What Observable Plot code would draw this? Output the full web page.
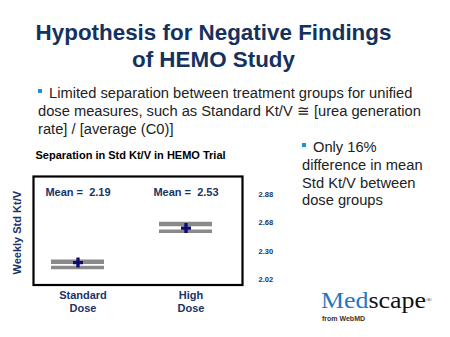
<!DOCTYPE html>
<html>
<head>
<meta charset="utf-8">
<script src="https://cdn.jsdelivr.net/npm/d3@7"></script>
<script src="https://cdn.jsdelivr.net/npm/@observablehq/plot@0.6"></script>
<style>
  html, body { margin: 0; padding: 0; background: #fff; }
  #page { position: relative; width: 450px; height: 337px; overflow: hidden; background: #fff; font-family: "Liberation Sans", Arial, sans-serif; }
  .abs { position: absolute; white-space: nowrap; }
  .title { left: 0; width: 427px; text-align: center; font-size: 22.4px; font-weight: bold; color: #15315e; line-height: 27px; top: 19px; }
  .body { font-size: 14.7px; color: #222; line-height: 17.8px; }
  .bullet { display: inline-block; width: 4px; height: 4px; background: #1e8fd6; vertical-align: middle; margin-right: 7px; position: relative; top: -3px; }
  #chart { position: absolute; left: 0; top: 140px; }
  #chart svg [aria-label="y-axis tick label"] text, #chart svg [aria-label="y-axis"] text { font-size: 7.5px; font-weight: bold; fill: #1a3366; }
  .logo { left: 321px; top: 286px; font-family: "Liberation Serif", "Times New Roman", serif; font-size: 24px; line-height: 28px; transform: scaleX(1.08); transform-origin: left top; }
  .from { left: 322px; top: 315px; font-size: 7px; font-weight: bold; color: #333; line-height: 8px; }
</style>
</head>
<body>
<div id="page">
  <div class="abs title">Hypothesis for Negative Findings<br>of HEMO Study</div>
  <div class="abs body" style="left:38px; top:85px;"><span class="bullet"></span>Limited separation between treatment groups for unified<br>dose measures, such as Standard Kt/V ≅ [urea generation<br>rate] / [average (C0)]</div>
  <div class="abs body" style="left:302px; top:139px;"><span class="bullet"></span>Only 16%<br>difference in mean<br>Std Kt/V between<br>dose groups</div>
  <div id="chart"></div>
  <div class="abs logo"><span style="color:#1f78c1">Med</span><span style="color:#111">scape</span><span style="font-size:7px; vertical-align: top; color:#333">®</span></div>
  <div class="abs from">from WebMD</div>
</div>
<script>
const chartTitle = "Separation in Std Kt/V in HEMO Trial";
const yLabel = "Weekly Std Kt/V";
const groups = ["Standard Dose", "High Dose"];
const groupLabels = ["Standard\nDose", "High\nDose"];
const means = [2.19, 2.53];
const meanLabels = ["Mean =  2.19", "Mean =  2.53"];
const upperBar = [2.198, 2.571];
const lowerBar = [2.141, 2.499];
const tickValues = [2.02, 2.30, 2.58, 2.86];
const tickLabels = ["2.02", "2.30", "2.68", "2.88"];

const data = groups.map((g, i) => ({
  group: g, label: groupLabels[i], mean: means[i], meanLabel: meanLabels[i],
  upper: upperBar[i], lower: lowerBar[i]
}));

const navy = "#1a3366";
const chart = Plot.plot({
  width: 300,
  height: 180,
  marginTop: 36,
  marginBottom: 35.5,
  marginLeft: 33,
  marginRight: 58,
  style: { fontFamily: "'Liberation Sans', Arial, sans-serif", background: "white", overflow: "visible" },
  x: { type: "band", domain: groups, range: [50.5, 212.2], paddingInner: 0.512, paddingOuter: 0, axis: null },
  y: {
    domain: [1.969, 3.039],
    axis: "right",
    ticks: tickValues,
    tickFormat: d => tickLabels[tickValues.indexOf(d)],
    tickSize: 0,
    tickPadding: 16,
    label: null
  },
  marks: [
    Plot.tickY(data, { x: "group", y: "upper", stroke: "#8a8a8a", strokeWidth: 4.5 }),
    Plot.tickY(data, { x: "group", y: "lower", stroke: "#8a8a8a", strokeWidth: 3.5 }),
    Plot.dot(data, { x: "group", y: "mean", symbol: "cross", r: 4.2, fill: "#0d0d70", stroke: "none" }),
    Plot.text(data, { x: "group", text: "meanLabel", frameAnchor: "top", dy: 15.5, lineAnchor: "middle", fontSize: 11, fontWeight: "bold", fill: navy }),
    Plot.text(data, { x: "group", text: "label", frameAnchor: "bottom", dy: 16, dx: 5, lineAnchor: "middle", lineHeight: 1.18, fontSize: 11, fontWeight: "bold", fill: navy }),
    Plot.text([chartTitle], { frameAnchor: "top-left", dx: 2, dy: -21, textAnchor: "start", lineAnchor: "middle", fontSize: 11, fontWeight: "bold", fill: "#000" }),
    Plot.text([yLabel], { frameAnchor: "left", dx: -16, dy: 2, rotate: -90, textAnchor: "middle", lineAnchor: "middle", fontSize: 11, fontWeight: "bold", fill: navy }),
    Plot.frame({ stroke: "#000", strokeWidth: 2.2 })
  ]
});
document.getElementById("chart").appendChild(chart);
</script>
</body>
</html>
